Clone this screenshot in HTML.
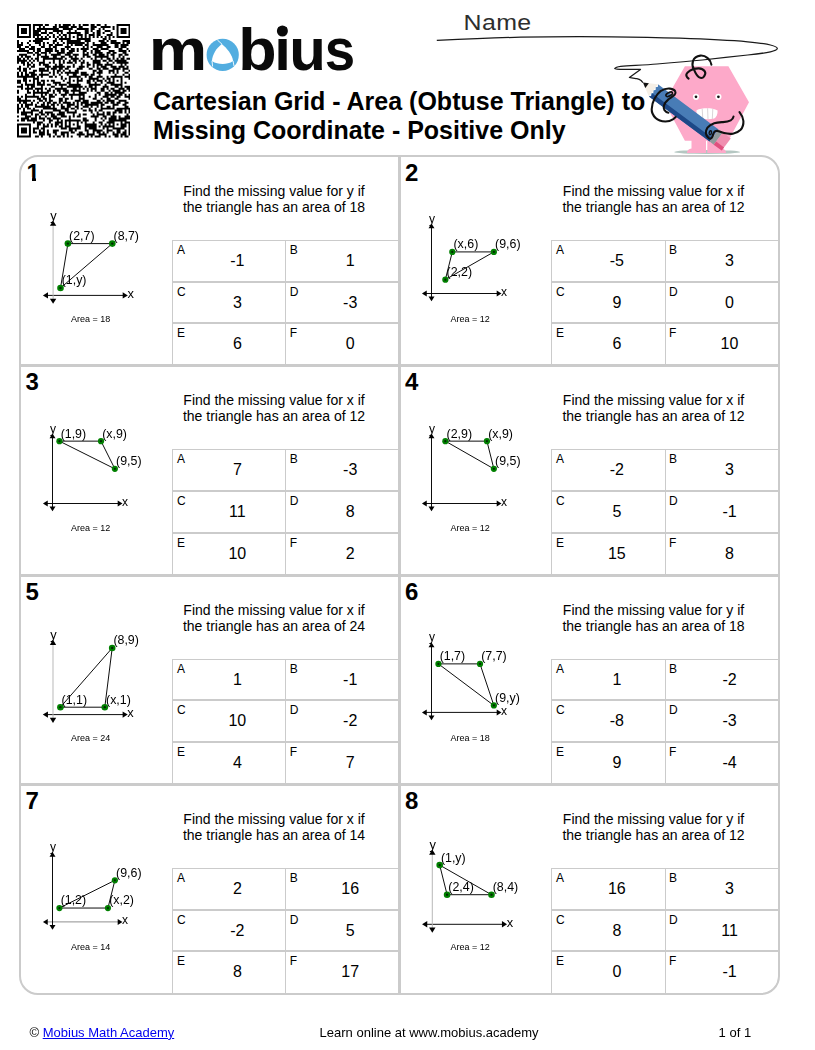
<!DOCTYPE html>
<html lang="en"><head><meta charset="utf-8"><title>Cartesian Grid - Area (Obtuse Triangle) to Missing Coordinate - Positive Only</title>
<style>
html,body{margin:0;padding:0;background:#fff}
body{width:815px;height:1050px;position:relative;overflow:hidden;font-family:"Liberation Sans",sans-serif;color:#000}
.abs{position:absolute}
.title{position:absolute;left:153px;top:87px;font-size:25px;font-weight:bold;line-height:29.3px;white-space:nowrap}
.frame{position:absolute;left:19.3px;top:155px;width:756.7px;height:836px;border:2px solid #cbcbcb;border-radius:19px;box-sizing:content-box}
.vl{position:absolute;left:398px;top:156px;width:3px;height:838px;background:#cbcbcb}
.hl{position:absolute;left:20px;width:759px;height:3px;background:#cbcbcb}
.num{position:absolute;font-size:24px;font-weight:bold;line-height:28px}
.q{position:absolute;width:228px;text-align:center;font-size:14px;line-height:16.3px;white-space:nowrap}
.a{position:absolute;width:111px;height:39.4px;border:1px solid #cbcbcb;box-sizing:content-box}
.a .l{position:absolute;left:3.8px;top:1.9px;font-size:12px;line-height:14px}
.a .v{position:absolute;left:16.4px;right:0;top:10.8px;text-align:center;font-size:16px;line-height:18px}
.foot{position:absolute;top:1024.7px;font-size:13px;line-height:15px;white-space:nowrap}
.foot a{color:#0000ee;text-decoration:underline}
svg text{font-family:"Liberation Sans",sans-serif;fill:#000}
</style></head><body>

<svg class="qr" style="position:absolute;left:16.5px;top:24.2px" width="113.5" height="113.5" viewBox="0 0 57 57"><path fill="#000" d="M0 0h7v1h-7zM8 0h5v1h-5zM14 0h2v1h-2zM19 0h1v1h-1zM21 0h1v1h-1zM23 0h4v1h-4zM28 0h1v1h-1zM31 0h1v1h-1zM33 0h3v1h-3zM37 0h2v1h-2zM40 0h2v1h-2zM44 0h1v1h-1zM50 0h7v1h-7zM0 1h1v1h-1zM6 1h1v1h-1zM8 1h1v1h-1zM11 1h1v1h-1zM13 1h1v1h-1zM18 1h2v1h-2zM21 1h5v1h-5zM27 1h3v1h-3zM31 1h2v1h-2zM37 1h3v1h-3zM42 1h5v1h-5zM48 1h1v1h-1zM50 1h1v1h-1zM56 1h1v1h-1zM0 2h1v1h-1zM2 2h3v1h-3zM6 2h1v1h-1zM8 2h1v1h-1zM10 2h11v1h-11zM23 2h5v1h-5zM30 2h6v1h-6zM37 2h2v1h-2zM41 2h1v1h-1zM43 2h1v1h-1zM48 2h1v1h-1zM50 2h1v1h-1zM52 2h3v1h-3zM56 2h1v1h-1zM0 3h1v1h-1zM2 3h3v1h-3zM6 3h1v1h-1zM8 3h4v1h-4zM14 3h1v1h-1zM18 3h5v1h-5zM26 3h1v1h-1zM29 3h1v1h-1zM34 3h2v1h-2zM37 3h1v1h-1zM40 3h2v1h-2zM44 3h3v1h-3zM50 3h1v1h-1zM52 3h3v1h-3zM56 3h1v1h-1zM0 4h1v1h-1zM2 4h3v1h-3zM6 4h1v1h-1zM8 4h3v1h-3zM12 4h3v1h-3zM16 4h2v1h-2zM20 4h1v1h-1zM22 4h1v1h-1zM25 4h7v1h-7zM34 4h2v1h-2zM38 4h1v1h-1zM40 4h2v1h-2zM43 4h1v1h-1zM47 4h1v1h-1zM50 4h1v1h-1zM52 4h3v1h-3zM56 4h1v1h-1zM0 5h1v1h-1zM6 5h1v1h-1zM8 5h4v1h-4zM15 5h1v1h-1zM18 5h1v1h-1zM21 5h1v1h-1zM23 5h2v1h-2zM26 5h1v1h-1zM30 5h3v1h-3zM34 5h1v1h-1zM36 5h3v1h-3zM40 5h2v1h-2zM45 5h3v1h-3zM50 5h1v1h-1zM56 5h1v1h-1zM0 6h7v1h-7zM8 6h1v1h-1zM10 6h1v1h-1zM12 6h1v1h-1zM14 6h1v1h-1zM16 6h1v1h-1zM18 6h1v1h-1zM20 6h1v1h-1zM22 6h1v1h-1zM24 6h1v1h-1zM26 6h1v1h-1zM28 6h1v1h-1zM30 6h1v1h-1zM32 6h1v1h-1zM34 6h1v1h-1zM36 6h1v1h-1zM38 6h1v1h-1zM40 6h1v1h-1zM42 6h1v1h-1zM44 6h1v1h-1zM46 6h1v1h-1zM48 6h1v1h-1zM50 6h7v1h-7zM9 7h7v1h-7zM19 7h1v1h-1zM21 7h6v1h-6zM30 7h7v1h-7zM43 7h2v1h-2zM46 7h1v1h-1zM0 8h1v1h-1zM6 8h1v1h-1zM8 8h5v1h-5zM18 8h2v1h-2zM22 8h1v1h-1zM25 8h7v1h-7zM34 8h3v1h-3zM41 8h3v1h-3zM45 8h1v1h-1zM47 8h3v1h-3zM53 8h4v1h-4zM0 9h1v1h-1zM2 9h1v1h-1zM5 9h1v1h-1zM9 9h3v1h-3zM13 9h1v1h-1zM15 9h1v1h-1zM18 9h1v1h-1zM20 9h1v1h-1zM23 9h1v1h-1zM25 9h9v1h-9zM35 9h1v1h-1zM38 9h1v1h-1zM42 9h3v1h-3zM47 9h5v1h-5zM53 9h1v1h-1zM55 9h2v1h-2zM0 10h3v1h-3zM6 10h1v1h-1zM11 10h1v1h-1zM13 10h1v1h-1zM16 10h2v1h-2zM19 10h4v1h-4zM25 10h1v1h-1zM27 10h1v1h-1zM29 10h4v1h-4zM34 10h2v1h-2zM38 10h8v1h-8zM49 10h2v1h-2zM52 10h4v1h-4zM0 11h2v1h-2zM4 11h2v1h-2zM7 11h2v1h-2zM12 11h2v1h-2zM16 11h1v1h-1zM18 11h2v1h-2zM24 11h3v1h-3zM33 11h1v1h-1zM35 11h1v1h-1zM37 11h1v1h-1zM40 11h3v1h-3zM45 11h2v1h-2zM49 11h2v1h-2zM52 11h3v1h-3zM1 12h3v1h-3zM6 12h3v1h-3zM10 12h2v1h-2zM14 12h4v1h-4zM19 12h1v1h-1zM22 12h2v1h-2zM25 12h1v1h-1zM27 12h2v1h-2zM30 12h1v1h-1zM32 12h4v1h-4zM38 12h3v1h-3zM42 12h4v1h-4zM51 12h2v1h-2zM55 12h1v1h-1zM0 13h6v1h-6zM8 13h1v1h-1zM10 13h2v1h-2zM14 13h4v1h-4zM19 13h2v1h-2zM22 13h2v1h-2zM26 13h3v1h-3zM30 13h1v1h-1zM33 13h2v1h-2zM37 13h1v1h-1zM39 13h3v1h-3zM46 13h3v1h-3zM51 13h4v1h-4zM56 13h1v1h-1zM5 14h3v1h-3zM9 14h2v1h-2zM12 14h3v1h-3zM16 14h1v1h-1zM20 14h4v1h-4zM25 14h3v1h-3zM33 14h1v1h-1zM35 14h1v1h-1zM37 14h1v1h-1zM39 14h4v1h-4zM45 14h2v1h-2zM48 14h2v1h-2zM53 14h2v1h-2zM1 15h4v1h-4zM8 15h1v1h-1zM10 15h2v1h-2zM14 15h1v1h-1zM17 15h5v1h-5zM24 15h3v1h-3zM28 15h3v1h-3zM33 15h3v1h-3zM38 15h2v1h-2zM41 15h3v1h-3zM45 15h1v1h-1zM47 15h2v1h-2zM51 15h2v1h-2zM54 15h2v1h-2zM0 16h1v1h-1zM2 16h1v1h-1zM4 16h3v1h-3zM10 16h1v1h-1zM12 16h4v1h-4zM18 16h2v1h-2zM22 16h2v1h-2zM26 16h2v1h-2zM29 16h1v1h-1zM33 16h1v1h-1zM35 16h2v1h-2zM39 16h7v1h-7zM48 16h1v1h-1zM51 16h1v1h-1zM53 16h1v1h-1zM0 17h2v1h-2zM3 17h1v1h-1zM5 17h1v1h-1zM7 17h1v1h-1zM9 17h2v1h-2zM13 17h10v1h-10zM24 17h1v1h-1zM27 17h4v1h-4zM32 17h1v1h-1zM37 17h1v1h-1zM39 17h1v1h-1zM42 17h1v1h-1zM45 17h2v1h-2zM48 17h1v1h-1zM50 17h1v1h-1zM52 17h2v1h-2zM55 17h2v1h-2zM0 18h5v1h-5zM6 18h1v1h-1zM8 18h1v1h-1zM10 18h1v1h-1zM13 18h1v1h-1zM18 18h1v1h-1zM21 18h1v1h-1zM23 18h1v1h-1zM26 18h1v1h-1zM28 18h2v1h-2zM31 18h1v1h-1zM33 18h1v1h-1zM38 18h4v1h-4zM43 18h2v1h-2zM46 18h2v1h-2zM49 18h6v1h-6zM0 19h1v1h-1zM2 19h2v1h-2zM5 19h1v1h-1zM7 19h1v1h-1zM11 19h3v1h-3zM16 19h1v1h-1zM18 19h1v1h-1zM21 19h1v1h-1zM23 19h1v1h-1zM25 19h3v1h-3zM29 19h1v1h-1zM32 19h2v1h-2zM35 19h1v1h-1zM38 19h4v1h-4zM45 19h1v1h-1zM48 19h1v1h-1zM50 19h6v1h-6zM3 20h1v1h-1zM5 20h2v1h-2zM8 20h1v1h-1zM11 20h1v1h-1zM13 20h3v1h-3zM19 20h1v1h-1zM21 20h2v1h-2zM28 20h1v1h-1zM32 20h1v1h-1zM35 20h2v1h-2zM38 20h1v1h-1zM40 20h3v1h-3zM44 20h4v1h-4zM52 20h1v1h-1zM54 20h1v1h-1zM1 21h1v1h-1zM5 21h1v1h-1zM7 21h2v1h-2zM14 21h3v1h-3zM18 21h6v1h-6zM25 21h2v1h-2zM28 21h1v1h-1zM31 21h3v1h-3zM35 21h1v1h-1zM38 21h1v1h-1zM40 21h1v1h-1zM42 21h3v1h-3zM47 21h3v1h-3zM51 21h3v1h-3zM55 21h1v1h-1zM0 22h2v1h-2zM3 22h2v1h-2zM6 22h1v1h-1zM11 22h3v1h-3zM15 22h1v1h-1zM17 22h3v1h-3zM21 22h2v1h-2zM24 22h2v1h-2zM30 22h3v1h-3zM36 22h2v1h-2zM40 22h2v1h-2zM43 22h3v1h-3zM48 22h4v1h-4zM53 22h3v1h-3zM1 23h1v1h-1zM3 23h2v1h-2zM8 23h2v1h-2zM11 23h5v1h-5zM18 23h1v1h-1zM20 23h2v1h-2zM23 23h1v1h-1zM26 23h1v1h-1zM29 23h2v1h-2zM38 23h2v1h-2zM41 23h2v1h-2zM46 23h3v1h-3zM50 23h1v1h-1zM53 23h1v1h-1zM56 23h1v1h-1zM0 24h1v1h-1zM2 24h1v1h-1zM4 24h1v1h-1zM6 24h3v1h-3zM12 24h1v1h-1zM16 24h1v1h-1zM18 24h1v1h-1zM20 24h1v1h-1zM22 24h1v1h-1zM24 24h7v1h-7zM32 24h3v1h-3zM38 24h1v1h-1zM40 24h3v1h-3zM46 24h1v1h-1zM48 24h1v1h-1zM50 24h1v1h-1zM54 24h2v1h-2zM0 25h1v1h-1zM2 25h1v1h-1zM4 25h2v1h-2zM7 25h3v1h-3zM11 25h5v1h-5zM18 25h1v1h-1zM21 25h1v1h-1zM25 25h1v1h-1zM28 25h2v1h-2zM32 25h4v1h-4zM37 25h2v1h-2zM41 25h1v1h-1zM49 25h1v1h-1zM53 25h1v1h-1zM56 25h1v1h-1zM0 26h9v1h-9zM10 26h1v1h-1zM12 26h1v1h-1zM16 26h2v1h-2zM19 26h1v1h-1zM22 26h1v1h-1zM26 26h6v1h-6zM34 26h1v1h-1zM36 26h2v1h-2zM40 26h3v1h-3zM45 26h1v1h-1zM47 26h6v1h-6zM54 26h3v1h-3zM3 27h2v1h-2zM8 27h3v1h-3zM22 27h1v1h-1zM24 27h1v1h-1zM26 27h1v1h-1zM30 27h1v1h-1zM32 27h1v1h-1zM36 27h5v1h-5zM43 27h1v1h-1zM45 27h2v1h-2zM48 27h1v1h-1zM52 27h1v1h-1zM56 27h1v1h-1zM0 28h2v1h-2zM3 28h2v1h-2zM6 28h1v1h-1zM8 28h1v1h-1zM10 28h1v1h-1zM12 28h2v1h-2zM15 28h1v1h-1zM17 28h2v1h-2zM23 28h1v1h-1zM26 28h1v1h-1zM28 28h1v1h-1zM30 28h3v1h-3zM35 28h2v1h-2zM38 28h1v1h-1zM40 28h3v1h-3zM44 28h1v1h-1zM46 28h1v1h-1zM48 28h1v1h-1zM50 28h1v1h-1zM52 28h1v1h-1zM0 29h2v1h-2zM4 29h1v1h-1zM8 29h1v1h-1zM10 29h2v1h-2zM13 29h1v1h-1zM18 29h4v1h-4zM25 29h2v1h-2zM30 29h1v1h-1zM35 29h2v1h-2zM39 29h1v1h-1zM42 29h1v1h-1zM45 29h4v1h-4zM52 29h1v1h-1zM54 29h1v1h-1zM2 30h1v1h-1zM4 30h5v1h-5zM10 30h4v1h-4zM15 30h2v1h-2zM19 30h1v1h-1zM21 30h4v1h-4zM26 30h6v1h-6zM36 30h6v1h-6zM44 30h1v1h-1zM47 30h6v1h-6zM0 31h3v1h-3zM5 31h1v1h-1zM7 31h2v1h-2zM12 31h1v1h-1zM17 31h2v1h-2zM22 31h1v1h-1zM25 31h8v1h-8zM34 31h1v1h-1zM36 31h2v1h-2zM39 31h1v1h-1zM43 31h3v1h-3zM49 31h2v1h-2zM52 31h1v1h-1zM54 31h3v1h-3zM2 32h1v1h-1zM4 32h4v1h-4zM9 32h4v1h-4zM14 32h1v1h-1zM16 32h1v1h-1zM19 32h6v1h-6zM28 32h2v1h-2zM31 32h1v1h-1zM33 32h1v1h-1zM35 32h1v1h-1zM37 32h3v1h-3zM42 32h2v1h-2zM45 32h1v1h-1zM47 32h2v1h-2zM51 32h3v1h-3zM55 32h2v1h-2zM0 33h1v1h-1zM5 33h1v1h-1zM8 33h1v1h-1zM10 33h1v1h-1zM12 33h1v1h-1zM15 33h2v1h-2zM18 33h1v1h-1zM20 33h2v1h-2zM23 33h3v1h-3zM27 33h5v1h-5zM35 33h1v1h-1zM37 33h1v1h-1zM39 33h1v1h-1zM42 33h2v1h-2zM46 33h1v1h-1zM48 33h4v1h-4zM53 33h2v1h-2zM56 33h1v1h-1zM0 34h1v1h-1zM5 34h2v1h-2zM8 34h8v1h-8zM18 34h1v1h-1zM21 34h1v1h-1zM24 34h2v1h-2zM28 34h1v1h-1zM31 34h4v1h-4zM40 34h2v1h-2zM44 34h2v1h-2zM47 34h1v1h-1zM49 34h5v1h-5zM4 35h1v1h-1zM8 35h1v1h-1zM12 35h1v1h-1zM14 35h1v1h-1zM16 35h2v1h-2zM19 35h1v1h-1zM22 35h3v1h-3zM26 35h8v1h-8zM39 35h1v1h-1zM41 35h1v1h-1zM44 35h6v1h-6zM51 35h2v1h-2zM54 35h1v1h-1zM56 35h1v1h-1zM0 36h1v1h-1zM2 36h1v1h-1zM4 36h7v1h-7zM12 36h2v1h-2zM16 36h3v1h-3zM23 36h1v1h-1zM27 36h1v1h-1zM31 36h1v1h-1zM33 36h1v1h-1zM36 36h1v1h-1zM39 36h1v1h-1zM43 36h3v1h-3zM47 36h2v1h-2zM50 36h2v1h-2zM54 36h3v1h-3zM0 37h2v1h-2zM4 37h1v1h-1zM10 37h2v1h-2zM13 37h2v1h-2zM16 37h1v1h-1zM21 37h2v1h-2zM24 37h2v1h-2zM27 37h1v1h-1zM31 37h3v1h-3zM38 37h2v1h-2zM42 37h1v1h-1zM45 37h2v1h-2zM49 37h2v1h-2zM56 37h1v1h-1zM0 38h7v1h-7zM8 38h1v1h-1zM11 38h2v1h-2zM14 38h1v1h-1zM16 38h2v1h-2zM21 38h2v1h-2zM24 38h1v1h-1zM29 38h3v1h-3zM33 38h3v1h-3zM40 38h2v1h-2zM43 38h1v1h-1zM45 38h4v1h-4zM51 38h4v1h-4zM1 39h1v1h-1zM3 39h2v1h-2zM7 39h1v1h-1zM10 39h1v1h-1zM13 39h1v1h-1zM15 39h2v1h-2zM18 39h2v1h-2zM21 39h1v1h-1zM23 39h4v1h-4zM28 39h1v1h-1zM30 39h1v1h-1zM32 39h4v1h-4zM37 39h6v1h-6zM44 39h2v1h-2zM47 39h2v1h-2zM50 39h2v1h-2zM54 39h2v1h-2zM0 40h1v1h-1zM2 40h1v1h-1zM4 40h4v1h-4zM9 40h1v1h-1zM12 40h2v1h-2zM15 40h1v1h-1zM17 40h2v1h-2zM20 40h1v1h-1zM22 40h1v1h-1zM25 40h4v1h-4zM30 40h1v1h-1zM32 40h1v1h-1zM34 40h7v1h-7zM42 40h2v1h-2zM48 40h3v1h-3zM53 40h2v1h-2zM0 41h1v1h-1zM2 41h1v1h-1zM4 41h2v1h-2zM9 41h8v1h-8zM18 41h1v1h-1zM22 41h2v1h-2zM25 41h2v1h-2zM29 41h2v1h-2zM33 41h3v1h-3zM37 41h1v1h-1zM40 41h1v1h-1zM42 41h1v1h-1zM45 41h2v1h-2zM48 41h1v1h-1zM54 41h2v1h-2zM0 42h2v1h-2zM3 42h1v1h-1zM5 42h2v1h-2zM8 42h1v1h-1zM13 42h7v1h-7zM22 42h4v1h-4zM27 42h2v1h-2zM30 42h1v1h-1zM32 42h1v1h-1zM36 42h1v1h-1zM39 42h1v1h-1zM42 42h7v1h-7zM50 42h7v1h-7zM0 43h1v1h-1zM3 43h1v1h-1zM7 43h4v1h-4zM12 43h1v1h-1zM18 43h4v1h-4zM24 43h2v1h-2zM29 43h1v1h-1zM33 43h2v1h-2zM36 43h2v1h-2zM39 43h1v1h-1zM41 43h2v1h-2zM49 43h4v1h-4zM54 43h1v1h-1zM56 43h1v1h-1zM0 44h1v1h-1zM2 44h6v1h-6zM11 44h2v1h-2zM14 44h4v1h-4zM21 44h3v1h-3zM25 44h5v1h-5zM37 44h1v1h-1zM40 44h1v1h-1zM43 44h1v1h-1zM45 44h2v1h-2zM48 44h2v1h-2zM51 44h2v1h-2zM54 44h1v1h-1zM56 44h1v1h-1zM2 45h3v1h-3zM7 45h1v1h-1zM9 45h2v1h-2zM12 45h2v1h-2zM15 45h1v1h-1zM17 45h2v1h-2zM20 45h4v1h-4zM28 45h1v1h-1zM31 45h1v1h-1zM33 45h2v1h-2zM38 45h1v1h-1zM40 45h4v1h-4zM45 45h2v1h-2zM48 45h1v1h-1zM55 45h1v1h-1zM0 46h1v1h-1zM4 46h3v1h-3zM9 46h1v1h-1zM11 46h1v1h-1zM14 46h1v1h-1zM17 46h3v1h-3zM22 46h3v1h-3zM26 46h1v1h-1zM28 46h1v1h-1zM30 46h2v1h-2zM37 46h4v1h-4zM43 46h2v1h-2zM47 46h3v1h-3zM51 46h1v1h-1zM54 46h3v1h-3zM2 47h4v1h-4zM7 47h3v1h-3zM11 47h3v1h-3zM15 47h2v1h-2zM18 47h4v1h-4zM26 47h1v1h-1zM33 47h2v1h-2zM39 47h1v1h-1zM42 47h1v1h-1zM44 47h1v1h-1zM46 47h4v1h-4zM51 47h6v1h-6zM0 48h1v1h-1zM2 48h2v1h-2zM5 48h5v1h-5zM13 48h1v1h-1zM16 48h2v1h-2zM20 48h1v1h-1zM22 48h1v1h-1zM24 48h8v1h-8zM33 48h3v1h-3zM39 48h1v1h-1zM43 48h1v1h-1zM46 48h9v1h-9zM8 49h1v1h-1zM10 49h3v1h-3zM16 49h1v1h-1zM19 49h4v1h-4zM24 49h1v1h-1zM26 49h1v1h-1zM30 49h1v1h-1zM32 49h1v1h-1zM34 49h1v1h-1zM38 49h1v1h-1zM41 49h2v1h-2zM45 49h4v1h-4zM52 49h1v1h-1zM54 49h3v1h-3zM0 50h7v1h-7zM10 50h2v1h-2zM13 50h1v1h-1zM15 50h1v1h-1zM17 50h1v1h-1zM19 50h2v1h-2zM22 50h1v1h-1zM24 50h1v1h-1zM26 50h1v1h-1zM28 50h1v1h-1zM30 50h1v1h-1zM34 50h6v1h-6zM42 50h1v1h-1zM44 50h1v1h-1zM46 50h1v1h-1zM48 50h1v1h-1zM50 50h1v1h-1zM52 50h3v1h-3zM56 50h1v1h-1zM0 51h1v1h-1zM6 51h1v1h-1zM10 51h1v1h-1zM13 51h3v1h-3zM17 51h1v1h-1zM19 51h1v1h-1zM21 51h2v1h-2zM24 51h3v1h-3zM30 51h2v1h-2zM34 51h6v1h-6zM41 51h1v1h-1zM43 51h6v1h-6zM52 51h3v1h-3zM56 51h1v1h-1zM0 52h1v1h-1zM2 52h3v1h-3zM6 52h1v1h-1zM8 52h3v1h-3zM12 52h2v1h-2zM22 52h3v1h-3zM26 52h6v1h-6zM34 52h1v1h-1zM36 52h4v1h-4zM43 52h1v1h-1zM45 52h1v1h-1zM48 52h6v1h-6zM56 52h1v1h-1zM0 53h1v1h-1zM2 53h3v1h-3zM6 53h1v1h-1zM8 53h1v1h-1zM11 53h1v1h-1zM13 53h1v1h-1zM15 53h1v1h-1zM18 53h3v1h-3zM26 53h2v1h-2zM29 53h1v1h-1zM34 53h2v1h-2zM38 53h5v1h-5zM45 53h3v1h-3zM50 53h2v1h-2zM54 53h1v1h-1zM56 53h1v1h-1zM0 54h1v1h-1zM2 54h3v1h-3zM6 54h1v1h-1zM8 54h2v1h-2zM11 54h3v1h-3zM15 54h1v1h-1zM18 54h2v1h-2zM22 54h4v1h-4zM27 54h2v1h-2zM31 54h2v1h-2zM35 54h1v1h-1zM38 54h1v1h-1zM40 54h2v1h-2zM43 54h1v1h-1zM45 54h1v1h-1zM48 54h1v1h-1zM50 54h2v1h-2zM53 54h2v1h-2zM56 54h1v1h-1zM0 55h1v1h-1zM6 55h1v1h-1zM11 55h3v1h-3zM15 55h2v1h-2zM19 55h1v1h-1zM22 55h2v1h-2zM25 55h1v1h-1zM30 55h4v1h-4zM35 55h4v1h-4zM41 55h4v1h-4zM48 55h3v1h-3zM52 55h3v1h-3zM56 55h1v1h-1zM0 56h7v1h-7zM9 56h2v1h-2zM12 56h1v1h-1zM16 56h1v1h-1zM18 56h1v1h-1zM20 56h2v1h-2zM23 56h1v1h-1zM25 56h1v1h-1zM27 56h1v1h-1zM31 56h1v1h-1zM34 56h2v1h-2zM37 56h1v1h-1zM39 56h3v1h-3zM44 56h1v1h-1zM46 56h1v1h-1zM49 56h2v1h-2zM52 56h1v1h-1zM54 56h2v1h-2z"/></svg>
<svg class="abs" style="left:0;top:0" width="400" height="85" viewBox="0 0 400 85">
<g font-family="Liberation Sans, sans-serif" font-weight="bold" font-size="60" fill="#0a0a0a" style="fill:#0a0a0a">
<text transform="translate(148.800 70.200) scale(1.096 1)" style="fill:#0a0a0a">m</text>
<text transform="translate(206 70.200) scale(.9 1)" style="fill:none" fill="none">o</text>
<text transform="translate(238.300 70.200) scale(1.046 1)" style="fill:#0a0a0a">b</text>
<text transform="translate(274.300 70.200)" style="fill:#0a0a0a">i</text>
<text transform="translate(289.200 70.200)" style="fill:#0a0a0a">u</text>
<text transform="translate(324.800 70.200) scale(.91 1)" style="fill:#0a0a0a">s</text>
</g>
<circle cx="282.400" cy="31" r="5.500" fill="#0a0a0a"/>
<circle cx="222.700" cy="54.900" r="16.100" fill="#52ade0"/>
<path d="M221.800 43.900C227 48 232.500 55 233.100 61C230 63.300 226 64 222.600 64C219 64 215 63.300 211.900 61C212.500 54 216.500 48 221.800 43.900Z" fill="#fff"/>
<path d="M222 44.200L217.400 40M212 60.800L212.600 66.500M233 60.800L234 66" stroke="#fff" stroke-width=".9" fill="none"/>
</svg>

<div class="title">Cartesian Grid - Area (Obtuse Triangle) to<br>Missing Coordinate - Positive Only</div>

<svg class="abs" style="left:0;top:0" width="815" height="160" viewBox="0 0 815 160">
<text transform="translate(463.600 30.200) scale(1.170 1)" font-size="21.3" letter-spacing=".3" style="fill:#2e2e2e">Name</text>
<path d="M436.800 40.400C465 39 495 37.700 520.800 37.200C551 36.600 585 36.600 611.600 36.800C635 37 660 37.500 679.700 38.200C705 39.100 730 40.300 747.700 41.800C757 42.700 766 43.800 770.400 45C775 46.300 777.600 47.400 777.300 48.600C777 50 774 51 770.400 51.800C764 53.200 756 54.200 747.700 55C733 56.500 717 58.300 702.400 60C687 61.600 672 62.800 657 64C645 65 632 65.500 620.700 66.300C618 66.600 615.500 67.200 614.700 68.500C615 69.300 619 69.400 624.500 69.400L640.500 69.400L629.400 77.400C632 78 634.500 78.300 636.800 78.700C638.500 79.100 640 79.700 641.100 80.500L642.900 82.600" fill="none" stroke="#1a1a1a" stroke-width="1.250" stroke-linejoin="round"/>
<!-- shadow -->
<ellipse cx="707.200" cy="152" rx="33" ry="2" fill="#b5c7c2"/>
<!-- body -->
<path d="M684.900 66.200L728.400 66.200L749 102.300L728.400 140.800L721.500 140.800L721.500 148.500Q726 149 726 153L707.300 153L707.300 140.800L706 140.800L706 153L687 153Q687 149 691.500 148.500L691.500 140.800L684.900 140.800L664.300 102.300Z" fill="#fda9c9"/>
<!-- mouth -->
<path d="M696.500 110.200C702 107.800 712 107.600 717.600 110.400C717.800 114 716.500 117 714.200 118.600C709 119.800 702.500 119.400 698.800 117.600C697 115.500 696.300 113 696.500 110.200Z" fill="#fff"/>
<path d="M702.200 108.800L702.800 118.800M707.600 108.300L708 119.300M712.800 108.800L712.300 119.100" stroke="#c9c2c6" stroke-width=".7" fill="none"/>
<!-- eyes -->
<circle cx="696" cy="96.800" r="3.100" fill="#fff"/><circle cx="718.400" cy="96.800" r="3.100" fill="#fff"/>
<circle cx="696" cy="96.800" r="1.350" fill="#111"/><circle cx="718.400" cy="96.800" r="1.350" fill="#111"/>
<!-- pencil -->
<g transform="translate(642.900 82.600) rotate(36.600)">
<path d="M0 0L13.100 -7.600L13.100 7.600Z" fill="#f5efe6"/>
<path d="M0 0L5.200 -3L5.200 3Z" fill="#111"/>
<path d="M13.100 -7.600L88.700 -7.600L88.700 7.600L13.100 7.600L14.600 5.700L13.100 3.800L14.600 1.900L13.100 0L14.600 -1.900L13.100 -3.800L14.600 -5.700Z" fill="#487cb6"/>
<path d="M13.100 7.600L88.700 7.600L88.700 3L14.200 3L14.600 5.700Z" fill="#1d4887"/>
<rect x="88.700" y="-7.600" width="5.200" height="15.200" fill="#8f9b9c"/>
<rect x="93.900" y="-7.600" width="9.900" height="15.200" fill="#f08fb0"/>
<rect x="93.900" y="3.600" width="9.900" height="4" fill="#e0507e"/>
</g>
<!-- hair curl -->
<path d="M711.400 64.700C711 62 709.500 59.500 707.700 58.100C705.500 56.300 703 55.400 700.400 55.600C697 56 694 58 693 61C692 64 692.500 67 693.800 69.100C695 72 696.500 75.500 698.900 77.200C701 78.400 703 78 704 76.500C705.500 74.500 705.800 73 704.800 71.400C703.500 69.500 701.500 68.500 698.900 68.400C695.500 68.300 692.500 69 690 70.600C688 72 686.800 73 686.400 74.300C686 76 687 77.500 688.600 78.700" fill="none" stroke="#111" stroke-width="2.100" stroke-linecap="round" stroke-linejoin="round"/>
<!-- left arm (around pencil) -->
<path d="M675.700 117.100C674.800 118 674 118.600 673.300 119.100C671 120.600 668 121.500 665.400 121.500C661.500 121.500 658 120.500 655.600 118.100C653 115.500 651.600 112.500 651.700 109.300C651.800 105.500 652.800 101.800 654.600 98.500C656.200 95.600 658 93 660.500 91.100C663.500 89.300 667 88.300 669.900 88.600C672.500 89 674.700 90 675.300 91.600C675.800 92.800 675.600 93.700 674.800 94.500C673 96.500 670.500 97.800 668.400 99.400C666.500 101 664.800 103 664 105.300C663.500 107 663.700 108.800 664.500 110.200C665.500 111.700 666.800 112.500 668.400 112.700" fill="none" stroke="#111" stroke-width="2.100" stroke-linecap="round" stroke-linejoin="round"/>
<ellipse cx="669.200" cy="94.300" rx="3.600" ry="1.700" transform="rotate(-28 669.200 94.300)" fill="none" stroke="#111" stroke-width="1.600"/>
<!-- right arm -->
<path d="M739.500 112.100C741.500 114.500 743 117.500 743.400 121C743.600 124.500 742.700 127.500 740.600 129.800C738.500 132 736 133.200 732.900 133.700C730 134.100 727 133.800 724.100 133.100C721.800 132.500 719.500 131.500 717.500 130.900C716 130.700 714.900 131 714.200 132C713.200 133.400 713 135 712.500 136.400C712.100 137.500 711.600 138.300 710.800 138.600C709.800 138.900 708.800 138.500 708.100 137.500C706.900 136.200 706 134.800 705.900 133.100C705.800 131 706.400 129.200 707.500 127.600C709.200 125.500 711.500 124.100 714.200 123.200C717 122.400 720 122.300 723 122.100C725.700 121.900 728.500 121.500 730.700 120.400C732.300 119.500 733.200 118.200 733.500 116.600" fill="none" stroke="#111" stroke-width="2.100" stroke-linecap="round" stroke-linejoin="round"/>
<ellipse cx="710.300" cy="132.800" rx="1.100" ry="2.100" transform="rotate(15 710.300 132.800)" fill="none" stroke="#111" stroke-width="1.400"/>
</svg>

<div class="num" style="left:26.6px;top:159.2px">1</div>
<div class="abs" style="left:26px;top:176.6px;width:6px;height:6px;background:#fff"></div>
<div class="abs" style="left:35.7px;top:176.6px;width:5px;height:6px;background:#fff"></div>
<div class="q" style="left:160.0px;top:182.6px">Find the missing value for y if<br>the triangle has an area of 18</div>
<div class="a" style="left:172.30px;top:240.00px;height:40.00px;width:111.7px"><span class="l">A</span><span class="v">-1</span></div>
<div class="a" style="left:286.00px;top:240.00px;height:40.00px;width:112px;border-left:0"><span class="l">B</span><span class="v">1</span></div>
<div class="a" style="left:172.30px;top:282.00px;height:39.00px;width:111.7px"><span class="l">C</span><span class="v">3</span></div>
<div class="a" style="left:286.00px;top:282.00px;height:39.00px;width:112px;border-left:0"><span class="l">D</span><span class="v">-3</span></div>
<div class="a" style="left:172.30px;top:323.00px;height:40.00px;width:111.7px"><span class="l">E</span><span class="v">6</span></div>
<div class="a" style="left:286.00px;top:323.00px;height:40.00px;width:112px;border-left:0"><span class="l">F</span><span class="v">0</span></div>
<div class="num" style="left:405.1px;top:159.2px">2</div>
<div class="q" style="left:539.5px;top:182.6px">Find the missing value for x if<br>the triangle has an area of 12</div>
<div class="a" style="left:551.30px;top:240.00px;height:40.00px;width:112.7px"><span class="l">A</span><span class="v">-5</span></div>
<div class="a" style="left:666.00px;top:240.00px;height:40.00px;width:112px;border-left:0"><span class="l" style="left:3px">B</span><span class="v" style="left:15px">3</span></div>
<div class="a" style="left:551.30px;top:282.00px;height:39.00px;width:112.7px"><span class="l">C</span><span class="v">9</span></div>
<div class="a" style="left:666.00px;top:282.00px;height:39.00px;width:112px;border-left:0"><span class="l" style="left:3px">D</span><span class="v" style="left:15px">0</span></div>
<div class="a" style="left:551.30px;top:323.00px;height:40.00px;width:112.7px"><span class="l">E</span><span class="v">6</span></div>
<div class="a" style="left:666.00px;top:323.00px;height:40.00px;width:112px;border-left:0"><span class="l" style="left:3px">F</span><span class="v" style="left:15px">10</span></div>
<div class="num" style="left:25.6px;top:368.3px">3</div>
<div class="q" style="left:160.0px;top:391.7px">Find the missing value for x if<br>the triangle has an area of 12</div>
<div class="a" style="left:172.30px;top:449.10px;height:39.90px;width:111.7px"><span class="l">A</span><span class="v">7</span></div>
<div class="a" style="left:286.00px;top:449.10px;height:39.90px;width:112px;border-left:0"><span class="l">B</span><span class="v">-3</span></div>
<div class="a" style="left:172.30px;top:491.00px;height:40.00px;width:111.7px"><span class="l">C</span><span class="v">11</span></div>
<div class="a" style="left:286.00px;top:491.00px;height:40.00px;width:112px;border-left:0"><span class="l">D</span><span class="v">8</span></div>
<div class="a" style="left:172.30px;top:533.00px;height:39.70px;width:111.7px"><span class="l">E</span><span class="v">10</span></div>
<div class="a" style="left:286.00px;top:533.00px;height:39.70px;width:112px;border-left:0"><span class="l">F</span><span class="v">2</span></div>
<div class="num" style="left:405.1px;top:368.3px">4</div>
<div class="q" style="left:539.5px;top:391.7px">Find the missing value for x if<br>the triangle has an area of 12</div>
<div class="a" style="left:551.30px;top:449.10px;height:39.90px;width:112.7px"><span class="l">A</span><span class="v">-2</span></div>
<div class="a" style="left:666.00px;top:449.10px;height:39.90px;width:112px;border-left:0"><span class="l" style="left:3px">B</span><span class="v" style="left:15px">3</span></div>
<div class="a" style="left:551.30px;top:491.00px;height:40.00px;width:112.7px"><span class="l">C</span><span class="v">5</span></div>
<div class="a" style="left:666.00px;top:491.00px;height:40.00px;width:112px;border-left:0"><span class="l" style="left:3px">D</span><span class="v" style="left:15px">-1</span></div>
<div class="a" style="left:551.30px;top:533.00px;height:39.70px;width:112.7px"><span class="l">E</span><span class="v">15</span></div>
<div class="a" style="left:666.00px;top:533.00px;height:39.70px;width:112px;border-left:0"><span class="l" style="left:3px">F</span><span class="v" style="left:15px">8</span></div>
<div class="num" style="left:25.6px;top:578.3px">5</div>
<div class="q" style="left:160.0px;top:601.7px">Find the missing value for x if<br>the triangle has an area of 24</div>
<div class="a" style="left:172.30px;top:659.10px;height:38.90px;width:111.7px"><span class="l">A</span><span class="v">1</span></div>
<div class="a" style="left:286.00px;top:659.10px;height:38.90px;width:112px;border-left:0"><span class="l">B</span><span class="v">-1</span></div>
<div class="a" style="left:172.30px;top:700.00px;height:40.00px;width:111.7px"><span class="l">C</span><span class="v">10</span></div>
<div class="a" style="left:286.00px;top:700.00px;height:40.00px;width:112px;border-left:0"><span class="l">D</span><span class="v">-2</span></div>
<div class="a" style="left:172.30px;top:742.00px;height:40.00px;width:111.7px"><span class="l">E</span><span class="v">4</span></div>
<div class="a" style="left:286.00px;top:742.00px;height:40.00px;width:112px;border-left:0"><span class="l">F</span><span class="v">7</span></div>
<div class="num" style="left:405.1px;top:578.3px">6</div>
<div class="q" style="left:539.5px;top:601.7px">Find the missing value for y if<br>the triangle has an area of 18</div>
<div class="a" style="left:551.30px;top:659.10px;height:38.90px;width:112.7px"><span class="l">A</span><span class="v">1</span></div>
<div class="a" style="left:666.00px;top:659.10px;height:38.90px;width:112px;border-left:0"><span class="l" style="left:3px">B</span><span class="v" style="left:15px">-2</span></div>
<div class="a" style="left:551.30px;top:700.00px;height:40.00px;width:112.7px"><span class="l">C</span><span class="v">-8</span></div>
<div class="a" style="left:666.00px;top:700.00px;height:40.00px;width:112px;border-left:0"><span class="l" style="left:3px">D</span><span class="v" style="left:15px">-3</span></div>
<div class="a" style="left:551.30px;top:742.00px;height:40.00px;width:112.7px"><span class="l">E</span><span class="v">9</span></div>
<div class="a" style="left:666.00px;top:742.00px;height:40.00px;width:112px;border-left:0"><span class="l" style="left:3px">F</span><span class="v" style="left:15px">-4</span></div>
<div class="num" style="left:25.6px;top:787.2px">7</div>
<div class="q" style="left:160.0px;top:810.6px">Find the missing value for x if<br>the triangle has an area of 14</div>
<div class="a" style="left:172.30px;top:868.00px;height:40.00px;width:111.7px"><span class="l">A</span><span class="v">2</span></div>
<div class="a" style="left:286.00px;top:868.00px;height:40.00px;width:112px;border-left:0"><span class="l">B</span><span class="v">16</span></div>
<div class="a" style="left:172.30px;top:910.00px;height:39.00px;width:111.7px"><span class="l">C</span><span class="v">-2</span></div>
<div class="a" style="left:286.00px;top:910.00px;height:39.00px;width:112px;border-left:0"><span class="l">D</span><span class="v">5</span></div>
<div class="a" style="left:172.30px;top:951.00px;height:41.00px;width:111.7px"><span class="l">E</span><span class="v">8</span></div>
<div class="a" style="left:286.00px;top:951.00px;height:41.00px;width:112px;border-left:0"><span class="l">F</span><span class="v">17</span></div>
<div class="num" style="left:405.1px;top:787.2px">8</div>
<div class="q" style="left:539.5px;top:810.6px">Find the missing value for y if<br>the triangle has an area of 12</div>
<div class="a" style="left:551.30px;top:868.00px;height:40.00px;width:112.7px"><span class="l">A</span><span class="v">16</span></div>
<div class="a" style="left:666.00px;top:868.00px;height:40.00px;width:112px;border-left:0"><span class="l" style="left:3px">B</span><span class="v" style="left:15px">3</span></div>
<div class="a" style="left:551.30px;top:910.00px;height:39.00px;width:112.7px"><span class="l">C</span><span class="v">8</span></div>
<div class="a" style="left:666.00px;top:910.00px;height:39.00px;width:112px;border-left:0"><span class="l" style="left:3px">D</span><span class="v" style="left:15px">11</span></div>
<div class="a" style="left:551.30px;top:951.00px;height:41.00px;width:112.7px"><span class="l">E</span><span class="v">0</span></div>
<div class="a" style="left:666.00px;top:951.00px;height:41.00px;width:112px;border-left:0;border-bottom-right-radius:17px"><span class="l" style="left:3px">F</span><span class="v" style="left:15px">-1</span></div>
<div class="vl"></div>
<div class="hl" style="top:364px"></div>
<div class="hl" style="top:573.7px"></div>
<div class="hl" style="top:783px"></div>
<div class="frame"></div>
<svg class="abs" style="left:0;top:0;will-change:transform" width="815" height="1050" viewBox="0 0 815 1050">
<line x1="44.89" y1="295.40" x2="125.84" y2="295.40" stroke="#000" stroke-width="0.95"/>
<line x1="53.10" y1="222.66" x2="53.10" y2="301.76" stroke="#b4b4b4" stroke-width="0.95"/>
<path d="M42.89 295.40l5.13 -3.20v6.41z"/>
<path d="M127.84 295.40l-5.13 -3.20v6.41z"/>
<path d="M53.10 220.66l-3.20 5.13h6.41z"/>
<path d="M53.10 303.76l-3.20 -5.13h6.41z"/>
<text x="127.44" y="297.80" font-size="12.84">x</text>
<text x="53.50" y="219.66" font-size="12.84" text-anchor="middle">y</text>
<path d="M67.90 243.60L112.30 243.60L60.50 288.00z" fill="none" stroke="#000" stroke-width="0.95"/>
<circle cx="67.90" cy="243.60" r="3.31" fill="#008000"/>
<circle cx="67.90" cy="243.60" r="1.17" fill="#002800"/>
<circle cx="112.30" cy="243.60" r="3.31" fill="#008000"/>
<circle cx="112.30" cy="243.60" r="1.17" fill="#002800"/>
<circle cx="60.50" cy="288.00" r="3.31" fill="#008000"/>
<circle cx="60.50" cy="288.00" r="1.17" fill="#002800"/>
<text x="69.10" y="240.00" font-size="12.4">(2,7)</text>
<text x="113.50" y="240.00" font-size="12.4">(8,7)</text>
<text x="61.70" y="284.40" font-size="12.4">(1,y)</text>
<text x="90.60" y="322.30" font-size="9" text-anchor="middle">Area = 18</text>
<line x1="423.94" y1="293.50" x2="499.49" y2="293.50" stroke="#000" stroke-width="0.95"/>
<line x1="431.50" y1="225.51" x2="431.50" y2="299.33" stroke="#000" stroke-width="0.95"/>
<path d="M421.94 293.50l4.80 -3.00v6.00z"/>
<path d="M501.49 293.50l-4.80 -3.00v6.00z"/>
<path d="M431.50 223.51l-3.00 4.80h6.00z"/>
<path d="M431.50 301.33l-3.00 -4.80h6.00z"/>
<text x="501.09" y="295.90" font-size="12.03">x</text>
<text x="431.90" y="222.51" font-size="12.03" text-anchor="middle">y</text>
<path d="M452.29 251.92L493.87 251.92L445.36 279.64z" fill="none" stroke="#000" stroke-width="0.95"/>
<circle cx="452.29" cy="251.92" r="3.10" fill="#008000"/>
<circle cx="452.29" cy="251.92" r="1.10" fill="#002800"/>
<circle cx="493.87" cy="251.92" r="3.10" fill="#008000"/>
<circle cx="493.87" cy="251.92" r="1.10" fill="#002800"/>
<circle cx="445.36" cy="279.64" r="3.10" fill="#008000"/>
<circle cx="445.36" cy="279.64" r="1.10" fill="#002800"/>
<text x="453.49" y="248.32" font-size="12.4">(x,6)</text>
<text x="495.07" y="248.32" font-size="12.4">(9,6)</text>
<text x="446.56" y="276.04" font-size="12.4">(2,2)</text>
<text x="470.10" y="322.30" font-size="9" text-anchor="middle">Area = 12</text>
<line x1="44.94" y1="503.50" x2="120.49" y2="503.50" stroke="#000" stroke-width="0.95"/>
<line x1="52.50" y1="435.51" x2="52.50" y2="509.33" stroke="#000" stroke-width="0.95"/>
<path d="M42.94 503.50l4.80 -3.00v6.00z"/>
<path d="M122.49 503.50l-4.80 -3.00v6.00z"/>
<path d="M52.50 433.51l-3.00 4.80h6.00z"/>
<path d="M52.50 511.33l-3.00 -4.80h6.00z"/>
<text x="122.09" y="505.90" font-size="12.03">x</text>
<text x="52.90" y="432.51" font-size="12.03" text-anchor="middle">y</text>
<path d="M59.43 441.13L101.01 441.13L114.87 468.85z" fill="none" stroke="#000" stroke-width="0.95"/>
<circle cx="59.43" cy="441.13" r="3.10" fill="#008000"/>
<circle cx="59.43" cy="441.13" r="1.10" fill="#002800"/>
<circle cx="101.01" cy="441.13" r="3.10" fill="#008000"/>
<circle cx="101.01" cy="441.13" r="1.10" fill="#002800"/>
<circle cx="114.87" cy="468.85" r="3.10" fill="#008000"/>
<circle cx="114.87" cy="468.85" r="1.10" fill="#002800"/>
<text x="60.63" y="437.53" font-size="12.4">(1,9)</text>
<text x="102.21" y="437.53" font-size="12.4">(x,9)</text>
<text x="116.07" y="465.25" font-size="12.4">(9,5)</text>
<text x="90.60" y="531.40" font-size="9" text-anchor="middle">Area = 12</text>
<line x1="423.94" y1="503.50" x2="499.49" y2="503.50" stroke="#000" stroke-width="0.95"/>
<line x1="431.50" y1="435.51" x2="431.50" y2="509.33" stroke="#000" stroke-width="0.95"/>
<path d="M421.94 503.50l4.80 -3.00v6.00z"/>
<path d="M501.49 503.50l-4.80 -3.00v6.00z"/>
<path d="M431.50 433.51l-3.00 4.80h6.00z"/>
<path d="M431.50 511.33l-3.00 -4.80h6.00z"/>
<text x="501.09" y="505.90" font-size="12.03">x</text>
<text x="431.90" y="432.51" font-size="12.03" text-anchor="middle">y</text>
<path d="M445.36 441.13L486.94 441.13L493.87 468.85z" fill="none" stroke="#000" stroke-width="0.95"/>
<circle cx="445.36" cy="441.13" r="3.10" fill="#008000"/>
<circle cx="445.36" cy="441.13" r="1.10" fill="#002800"/>
<circle cx="486.94" cy="441.13" r="3.10" fill="#008000"/>
<circle cx="486.94" cy="441.13" r="1.10" fill="#002800"/>
<circle cx="493.87" cy="468.85" r="3.10" fill="#008000"/>
<circle cx="493.87" cy="468.85" r="1.10" fill="#002800"/>
<text x="446.56" y="437.53" font-size="12.4">(2,9)</text>
<text x="488.14" y="437.53" font-size="12.4">(x,9)</text>
<text x="495.07" y="465.25" font-size="12.4">(9,5)</text>
<text x="470.10" y="531.40" font-size="9" text-anchor="middle">Area = 12</text>
<line x1="44.79" y1="714.60" x2="125.74" y2="714.60" stroke="#000" stroke-width="0.95"/>
<line x1="53.00" y1="641.86" x2="53.00" y2="720.96" stroke="#b4b4b4" stroke-width="0.95"/>
<path d="M42.79 714.60l5.13 -3.20v6.41z"/>
<path d="M127.74 714.60l-5.13 -3.20v6.41z"/>
<path d="M53.00 639.86l-3.20 5.13h6.41z"/>
<path d="M53.00 722.96l-3.20 -5.13h6.41z"/>
<text x="127.34" y="717.00" font-size="12.84">x</text>
<text x="53.40" y="638.86" font-size="12.84" text-anchor="middle">y</text>
<path d="M112.20 648.00L60.40 707.20L104.80 707.20z" fill="none" stroke="#000" stroke-width="0.95"/>
<circle cx="112.20" cy="648.00" r="3.31" fill="#008000"/>
<circle cx="112.20" cy="648.00" r="1.17" fill="#002800"/>
<circle cx="60.40" cy="707.20" r="3.31" fill="#008000"/>
<circle cx="60.40" cy="707.20" r="1.17" fill="#002800"/>
<circle cx="104.80" cy="707.20" r="3.31" fill="#008000"/>
<circle cx="104.80" cy="707.20" r="1.17" fill="#002800"/>
<text x="113.40" y="644.40" font-size="12.4">(8,9)</text>
<text x="61.60" y="703.60" font-size="12.4">(1,1)</text>
<text x="106.00" y="703.60" font-size="12.4">(x,1)</text>
<text x="90.60" y="741.40" font-size="9" text-anchor="middle">Area = 24</text>
<line x1="423.94" y1="712.40" x2="499.49" y2="712.40" stroke="#000" stroke-width="0.95"/>
<line x1="431.50" y1="644.41" x2="431.50" y2="718.23" stroke="#000" stroke-width="0.95"/>
<path d="M421.94 712.40l4.80 -3.00v6.00z"/>
<path d="M501.49 712.40l-4.80 -3.00v6.00z"/>
<path d="M431.50 642.41l-3.00 4.80h6.00z"/>
<path d="M431.50 720.23l-3.00 -4.80h6.00z"/>
<text x="501.09" y="714.80" font-size="12.03">x</text>
<text x="431.90" y="641.41" font-size="12.03" text-anchor="middle">y</text>
<path d="M438.43 663.89L480.01 663.89L493.87 705.47z" fill="none" stroke="#000" stroke-width="0.95"/>
<circle cx="438.43" cy="663.89" r="3.10" fill="#008000"/>
<circle cx="438.43" cy="663.89" r="1.10" fill="#002800"/>
<circle cx="480.01" cy="663.89" r="3.10" fill="#008000"/>
<circle cx="480.01" cy="663.89" r="1.10" fill="#002800"/>
<circle cx="493.87" cy="705.47" r="3.10" fill="#008000"/>
<circle cx="493.87" cy="705.47" r="1.10" fill="#002800"/>
<text x="439.63" y="660.29" font-size="12.4">(1,7)</text>
<text x="481.21" y="660.29" font-size="12.4">(7,7)</text>
<text x="495.07" y="701.87" font-size="12.4">(9,y)</text>
<text x="470.10" y="741.40" font-size="9" text-anchor="middle">Area = 18</text>
<line x1="44.94" y1="921.90" x2="120.49" y2="921.90" stroke="#8a8a8a" stroke-width="0.95"/>
<line x1="52.50" y1="853.91" x2="52.50" y2="927.73" stroke="#000" stroke-width="0.95"/>
<path d="M42.94 921.90l4.80 -3.00v6.00z"/>
<path d="M122.49 921.90l-4.80 -3.00v6.00z"/>
<path d="M52.50 851.91l-3.00 4.80h6.00z"/>
<path d="M52.50 929.73l-3.00 -4.80h6.00z"/>
<text x="122.09" y="924.30" font-size="12.03">x</text>
<text x="52.90" y="850.91" font-size="12.03" text-anchor="middle">y</text>
<path d="M114.87 880.32L59.43 908.04L107.94 908.04z" fill="none" stroke="#000" stroke-width="0.95"/>
<circle cx="114.87" cy="880.32" r="3.10" fill="#008000"/>
<circle cx="114.87" cy="880.32" r="1.10" fill="#002800"/>
<circle cx="59.43" cy="908.04" r="3.10" fill="#008000"/>
<circle cx="59.43" cy="908.04" r="1.10" fill="#002800"/>
<circle cx="107.94" cy="908.04" r="3.10" fill="#008000"/>
<circle cx="107.94" cy="908.04" r="1.10" fill="#002800"/>
<text x="116.07" y="876.72" font-size="12.4">(9,6)</text>
<text x="60.63" y="904.44" font-size="12.4">(1,2)</text>
<text x="109.14" y="904.44" font-size="12.4">(x,2)</text>
<text x="90.60" y="950.30" font-size="9" text-anchor="middle">Area = 14</text>
<line x1="424.09" y1="924.30" x2="505.04" y2="924.30" stroke="#000" stroke-width="0.95"/>
<line x1="432.30" y1="851.56" x2="432.30" y2="930.66" stroke="#b4b4b4" stroke-width="0.95"/>
<path d="M422.09 924.30l5.13 -3.20v6.41z"/>
<path d="M507.04 924.30l-5.13 -3.20v6.41z"/>
<path d="M432.30 849.56l-3.20 5.13h6.41z"/>
<path d="M432.30 932.66l-3.20 -5.13h6.41z"/>
<text x="506.64" y="926.70" font-size="12.84">x</text>
<text x="432.70" y="848.56" font-size="12.84" text-anchor="middle">y</text>
<path d="M439.70 865.10L447.10 894.70L491.50 894.70z" fill="none" stroke="#000" stroke-width="0.95"/>
<circle cx="439.70" cy="865.10" r="3.31" fill="#008000"/>
<circle cx="439.70" cy="865.10" r="1.17" fill="#002800"/>
<circle cx="447.10" cy="894.70" r="3.31" fill="#008000"/>
<circle cx="447.10" cy="894.70" r="1.17" fill="#002800"/>
<circle cx="491.50" cy="894.70" r="3.31" fill="#008000"/>
<circle cx="491.50" cy="894.70" r="1.17" fill="#002800"/>
<text x="440.90" y="861.50" font-size="12.4">(1,y)</text>
<text x="448.30" y="891.10" font-size="12.4">(2,4)</text>
<text x="492.70" y="891.10" font-size="12.4">(8,4)</text>
<text x="470.10" y="950.30" font-size="9" text-anchor="middle">Area = 12</text>
</svg>
<div class="foot" style="left:29.5px">© <a>Mobius Math Academy</a></div>
<div class="foot" style="left:319.6px">Learn online at www.mobius.academy</div>
<div class="foot" style="left:718.6px">1 of 1</div>
</body></html>
